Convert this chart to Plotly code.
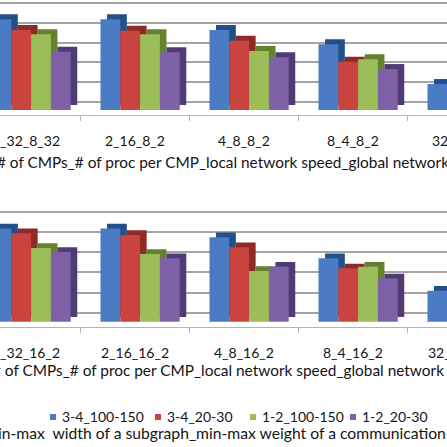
import plotly.graph_objects as go

# ---------------- data ----------------
categories_top = ["1_32_8_32", "2_16_8_2", "4_8_8_2", "8_4_8_2", "32_1_8_2"]
categories_bottom = ["1_32_16_2", "2_16_16_2", "4_8_16_2", "8_4_16_2", "32_1_16_2"]
series_names = ["3-4_100-150", "3-4_20-30", "1-2_100-150", "1-2_20-30"]

top_34_100_150 = [4.61, 4.61, 4.07, 3.34, 1.32]
top_34_20_30 = [4.06, 4.03, 3.52, 2.45, 1.05]
top_12_100_150 = [3.85, 3.85, 3.00, 2.58, 1.10]
top_12_20_30 = [2.96, 2.93, 2.68, 2.08, 0.90]

bottom_34_100_150 = [4.62, 4.62, 4.18, 3.14, 1.53]
bottom_34_20_30 = [4.38, 4.29, 3.68, 2.64, 1.25]
bottom_12_100_150 = [3.65, 3.35, 2.51, 2.72, 1.30]
bottom_12_20_30 = [3.45, 3.14, 2.72, 2.14, 1.05]

x_title = "# of CMPs_# of proc per CMP_local network speed_global network speed"
legend_title = "min-max\u00a0 width of a subgraph_min-max weight of a communication link"

# ---------------- style ----------------
W = H = 447
front_colors = ["#4a7bc3", "#c9443e", "#9cbe58", "#7e61a7"]
depth_colors = ["#22508a", "#8e2b27", "#64822e", "#4f3b76"]
grid_color = "#a4a4a4"
axis_color = "#b4b4b4"
text_color = "#141414"
FONT = "Lato"

bar_w = 0.1817
offsets = [-0.321 + k * bar_w for k in range(4)]
dx = 0.06

xr = [-0.243, 3.858]

def py(p):
    return 1 - p / H

def px(p):
    return p / W

fig = go.Figure()

panels = [
    dict(cats=categories_top,
         vals=[top_34_100_150, top_34_20_30, top_12_100_150, top_12_20_30],
         xa="x", ya="y", dy=0.254),
    dict(cats=categories_bottom,
         vals=[bottom_34_100_150, bottom_34_20_30, bottom_12_100_150, bottom_12_20_30],
         xa="x2", ya="y2", dy=0.235),
]

for pi, pnl in enumerate(panels):
    for k in range(4):
        fig.add_trace(go.Bar(
            x=pnl["cats"], y=pnl["vals"][k], base=pnl["dy"],
            offset=offsets[k] + dx, width=bar_w,
            marker=dict(color=depth_colors[k], line=dict(width=0)),
            showlegend=False, hoverinfo="skip",
            xaxis=pnl["xa"], yaxis=pnl["ya"]))
        fig.add_trace(go.Bar(
            x=pnl["cats"], y=pnl["vals"][k],
            offset=offsets[k], width=bar_w,
            marker=dict(color=front_colors[k], line=dict(width=0)),
            name=series_names[k], showlegend=False,
            xaxis=pnl["xa"], yaxis=pnl["ya"]))

common_x = dict(type="category", range=xr, tickson="boundaries", ticks="outside",
                ticklen=5, tickcolor=axis_color, tickwidth=1, showline=True,
                linecolor=axis_color, linewidth=1.2, showticklabels=False,
                showgrid=False, zeroline=False, fixedrange=True)
common_y = dict(showticklabels=False, showgrid=True, gridcolor=grid_color,
                gridwidth=1.7, zeroline=False, ticks="", showline=False,
                fixedrange=True)

fig.update_layout(
    width=W, height=H,
    margin=dict(l=0, r=0, t=0, b=0),
    paper_bgcolor="white", plot_bgcolor="white",
    barmode="overlay", showlegend=False,
    font=dict(family=FONT, color=text_color, size=14),
    xaxis=dict(common_x, domain=[0, 1], anchor="y",
               categoryorder="array", categoryarray=categories_top),
    yaxis=dict(common_y, domain=[py(115), 1], anchor="x",
               range=[-0.254, 5.59], tickvals=[0.421 + k for k in range(6)]),
    xaxis2=dict(common_x, domain=[0, 1], anchor="y2",
                categoryorder="array", categoryarray=categories_bottom),
    yaxis2=dict(common_y, domain=[py(326.7), py(200)], anchor="x2",
                range=[-0.2475, 6.025], tickvals=[0.4455 + k for k in range(6)]),
)

annotations = []
label_y = [140, 352]
for pi, pnl in enumerate(panels):
    for i, c in enumerate(pnl["cats"]):
        xf = (i - xr[0]) / (xr[1] - xr[0])
        annotations.append(dict(text=c, x=xf, y=py(label_y[pi]), xref="paper", yref="paper",
                                xanchor="center", yanchor="middle", showarrow=False,
                                font=dict(size=14, family=FONT, color=text_color)))

title_pos = [(-5, 161.5), (-10.5, 369.5)]
for (tx, ty) in title_pos:
    annotations.append(dict(text=x_title, x=px(tx), y=py(ty), xref="paper", yref="paper",
                            xanchor="left", yanchor="middle", showarrow=False,
                            font=dict(size=15.4, family=FONT, color=text_color)))

legend_x = [50, 155, 250, 350]
shapes = []
for k, name in enumerate(series_names):
    shapes.append(dict(type="rect", xref="paper", yref="paper",
                       x0=px(legend_x[k]), x1=px(legend_x[k] + 6),
                       y0=py(420), y1=py(414), fillcolor=front_colors[k],
                       line=dict(width=0)))
    annotations.append(dict(text=name, x=px(legend_x[k] + 10), y=py(416.5),
                            xref="paper", yref="paper", xanchor="left", yanchor="middle",
                            showarrow=False, font=dict(size=14, family=FONT, color=text_color)))

annotations.append(dict(text=legend_title, x=px(-17), y=py(433), xref="paper", yref="paper",
                        xanchor="left", yanchor="middle", showarrow=False,
                        font=dict(size=15.7, family=FONT, color=text_color)))

fig.update_layout(annotations=annotations, shapes=shapes)

fig.write_html("out.html")
